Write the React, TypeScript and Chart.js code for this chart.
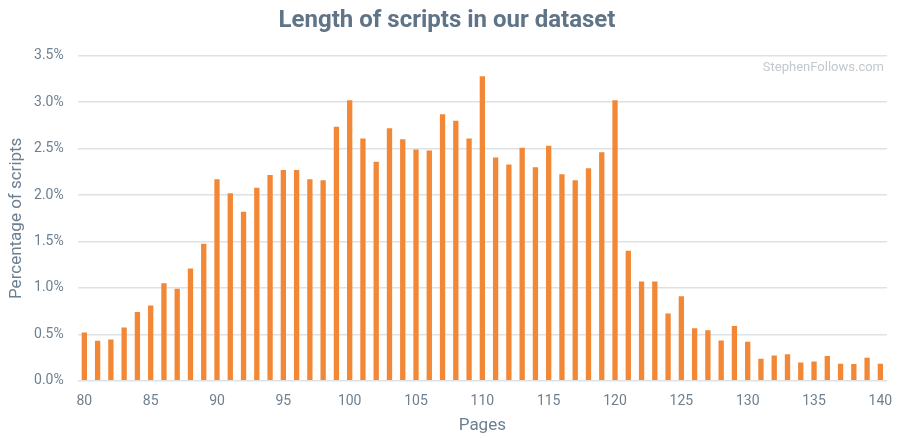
import React, { useEffect, useRef } from "react";
import { Chart, registerables } from "chart.js";

Chart.register(...registerables);

const pages: number[] = [
  80, 81, 82, 83, 84, 85, 86, 87, 88, 89, 90, 91, 92, 93, 94, 95, 96, 97, 98, 99,
  100, 101, 102, 103, 104, 105, 106, 107, 108, 109, 110, 111, 112, 113, 114, 115, 116, 117, 118, 119,
  120, 121, 122, 123, 124, 125, 126, 127, 128, 129, 130, 131, 132, 133, 134, 135, 136, 137, 138, 139, 140,
];

const percentOfScripts: number[] = [
  0.52, 0.43, 0.445, 0.575, 0.74, 0.81, 1.05, 0.99, 1.21, 1.475,
  2.17, 2.02, 1.82, 2.08, 2.215, 2.27, 2.27, 2.17, 2.16, 2.735,
  3.02, 2.61, 2.36, 2.72, 2.6, 2.49, 2.48, 2.87, 2.8, 2.61,
  3.28, 2.405, 2.33, 2.51, 2.3, 2.53, 2.225, 2.16, 2.29, 2.46,
  3.02, 1.4, 1.07, 1.07, 0.725, 0.91, 0.567, 0.545, 0.434, 0.59,
  0.42, 0.237, 0.273, 0.287, 0.197, 0.208, 0.266, 0.183, 0.18, 0.248, 0.183,
];

const yTicks: number[] = [0, 0.5, 1, 1.5, 2, 2.5, 3, 3.5];

const TEXT = "#5f7487";
const TICK = "#6d8091";
const GRID = "#dde2e7";
const BAR = "#f28736";

const watermark = {
  id: "watermark",
  afterDraw(chart: any) {
    const { ctx, chartArea } = chart;
    ctx.save();
    ctx.font = "13px Roboto";
    ctx.fillStyle = "#c3c8cd";
    ctx.textAlign = "right";
    ctx.textBaseline = "middle";
    ctx.fillText("StephenFollows.com", chartArea.right - 3, chartArea.top + 12);
    ctx.restore();
  },
};

export default function App() {
  const ref = useRef<HTMLCanvasElement>(null);
  useEffect(() => {
    document.body.style.margin = "0";
    const chart = new Chart(ref.current as HTMLCanvasElement, {
      type: "bar",
      data: {
        labels: pages.map(String),
        datasets: [
          {
            data: percentOfScripts,
            backgroundColor: BAR,
            barPercentage: 0.4,
            categoryPercentage: 1,
          },
        ],
      },
      options: {
        animation: false,
        responsive: false,
        maintainAspectRatio: false,
        layout: { padding: { top: 0, right: 13, bottom: 2, left: 7 } },
        plugins: {
          legend: { display: false },
          tooltip: { enabled: false },
          title: {
            display: true,
            text: "Length of scripts in our dataset",
            color: TEXT,
            font: { family: "Roboto", size: 24, weight: "bold" },
            padding: { top: 7, bottom: 20 },
          },
        },
        scales: {
          x: {
            grid: { display: false },
            border: { display: false },
            ticks: {
              color: TICK,
              font: { family: "Roboto", size: 14 },
              autoSkip: false,
              maxRotation: 0,
              padding: 4,
              callback: (_v: any, i: number) => (pages[i] % 5 === 0 ? String(pages[i]) : ""),
            },
            title: {
              display: true,
              text: "Pages",
              color: TICK,
              font: { family: "Roboto", size: 17 },
              padding: { top: 2, bottom: 0 },
            },
          },
          y: {
            min: yTicks[0],
            max: yTicks[yTicks.length - 1],
            afterBuildTicks: (axis: any) => {
              axis.ticks = yTicks.map((v) => ({ value: v }));
            },
            afterFit: (axis: any) => {
              axis.width = 70.7;
            },
            grid: { color: GRID, lineWidth: 1.5, drawTicks: false },
            border: { display: false },
            ticks: {
              color: TICK,
              font: { family: "Roboto", size: 14 },
              padding: 14,
              callback: (v: any) => Number(v).toFixed(1) + "%",
            },
            title: {
              display: true,
              text: "Percentage of scripts",
              color: TICK,
              font: { family: "Roboto", size: 17 },
              padding: { top: 0, bottom: 0 },
            },
          },
        },
      },
      plugins: [watermark],
    });
    return () => chart.destroy();
  }, []);
  return (
    <div style={{ width: 900, height: 438 }}>
      <canvas ref={ref} width={900} height={438} style={{ display: "block" }} />
    </div>
  );
}
